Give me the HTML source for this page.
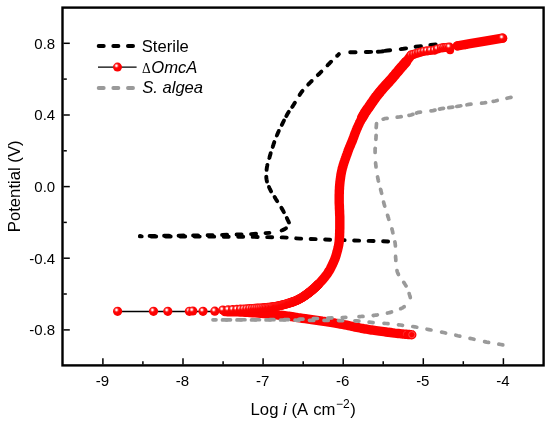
<!DOCTYPE html>
<html lang="en"><head><meta charset="utf-8"><title>Polarization curves</title>
<style>html,body{margin:0;padding:0;background:#fff}svg{display:block}</style></head>
<body>
<svg width="550" height="425" viewBox="0 0 550 425">
<defs><radialGradient id="ball" cx="0.38" cy="0.35" r="0.62"><stop offset="0" stop-color="#fff"/><stop offset="0.1" stop-color="#fff4f4"/><stop offset="0.34" stop-color="#ff2c2c"/><stop offset="0.5" stop-color="#fd0303"/><stop offset="1" stop-color="#fb0000"/></radialGradient></defs>
<rect width="550" height="425" fill="#fff"/>
<g fill="none" stroke-linejoin="round">
<polyline points="140.0,236.4 200.0,236.6 250.0,236.8 283.0,237.4 300.0,238.6 335.5,239.9 360.0,240.6 389.3,241.5" stroke="#000" stroke-width="3.9" stroke-linecap="round" stroke-dasharray="5.0 9.5" stroke-dashoffset="3.30"/>
<polyline points="140.0,236.0 200.0,235.4 250.0,234.2 269.4,232.9" stroke="#000" stroke-width="3.9" stroke-linecap="round" stroke-dasharray="5.0 9.5" stroke-dashoffset="4.90"/>
<path d="M281.6 230.5 L281.9 230.3 L282.4 230.2 L282.8 230.0 L283.2 229.8 L283.5 229.7 L283.9 229.5 L284.3 229.3 L284.6 229.1 L284.9 228.9 L285.3 228.7 L285.6 228.5 L285.9 228.3 L286.0 228.2 M289.0 222.5 L289.0 222.4 L288.9 222.3 L288.8 222.1 L288.7 221.9 L288.6 221.6 L288.4 221.4 L288.3 221.1 L288.1 220.7 L287.9 220.3 L287.7 219.8 L287.4 219.4 L287.2 218.8 L286.9 218.2 L286.8 218.0 M283.9 212.2 L283.8 212.1 L283.5 211.4 L283.1 210.7 L282.7 210.0 L282.3 209.3 L281.9 208.7 L281.5 208.0 L281.4 207.8 M277.2 201.2 L277.1 201.1 L276.7 200.4 L276.3 199.8 L275.9 199.1 L275.5 198.5 L275.1 197.8 L274.7 197.2 L274.6 197.0 M271.1 191.4 L270.9 191.1 L270.6 190.4 L270.3 189.8 L270.0 189.2 L269.7 188.6 L269.4 188.0 L269.1 187.3 L269.0 186.9 M267.0 181.5 L266.9 181.1 L266.7 180.4 L266.6 179.8 L266.5 179.1 L266.4 178.4 L266.3 177.7 L266.3 177.0 L266.3 176.6 M266.6 169.9 L266.6 169.6 L266.7 168.9 L266.8 168.1 L266.9 167.4 L267.0 166.7 L267.2 165.9 L267.3 165.2 L267.4 164.9 M269.3 158.0 L269.4 157.8 L269.6 157.0 L269.8 156.3 L270.0 155.6 L270.2 154.9 L270.4 154.2 L270.6 153.5 L270.7 153.2 M272.7 146.9 L272.8 146.6 L273.0 145.9 L273.3 145.2 L273.5 144.5 L273.7 143.8 L274.0 143.1 L274.2 142.4 L274.3 142.1 M276.8 135.5 L276.9 135.3 L277.2 134.6 L277.5 133.9 L277.8 133.2 L278.1 132.5 L278.4 131.8 L278.7 131.2 L278.8 130.9 M281.8 124.9 L282.0 124.6 L282.3 123.9 L282.6 123.3 L282.9 122.7 L283.2 122.1 L283.5 121.5 L283.8 120.9 L284.0 120.5 M286.3 116.1 L286.6 115.5 L286.9 115.0 L287.2 114.5 L287.5 113.9 L287.8 113.3 L288.2 112.8 L288.5 112.3 L288.8 111.8 M292.2 106.9 L292.4 106.7 L292.8 106.1 L293.2 105.4 L293.6 104.8 L294.0 104.1 L294.5 103.4 L294.9 102.7 L294.9 102.7 M299.6 95.0 L300.0 94.3 L300.5 93.6 L301.0 92.9 L301.5 92.2 L302.0 91.5 L302.5 90.9 M308.2 84.6 L308.7 84.0 L309.3 83.4 L309.9 82.8 L310.5 82.2 L311.1 81.6 L311.7 81.0 M317.8 75.1 L318.4 74.6 L319.0 74.0 L319.6 73.4 L320.2 72.8 L320.8 72.2 L321.4 71.6 M327.5 65.3 L328.1 64.7 L328.7 64.1 L329.3 63.5 L329.9 62.9 L330.6 62.2 L331.1 61.7 M337.1 55.8 L337.2 55.8 L337.7 55.3 L338.2 54.8 L338.6 54.4 L338.9 54.1" stroke="#000" stroke-width="3.9" stroke-linecap="round" fill="none"/>
<path d="M350.2 52.3 L352.9 52.2 L355.6 52.2 M365.8 52.0 L368.5 52.0 L371.2 51.9 M377.8 51.7 L380.5 51.6 L383.2 51.2 M384.8 50.9 L387.5 50.5 L390.2 50.2 M400.7 49.1 L403.4 48.8 L406.1 48.4 M415.6 46.8 L418.3 46.4 L421.0 46.1 M430.3 45.0 L433.0 44.7 L435.7 44.5" stroke="#000" stroke-width="3.9" stroke-linecap="round" fill="none"/>
<polyline points="117.3,311.5 215,311.5" stroke="#000" stroke-width="1.5"/>
<polyline points="225.0,311.6 226.2,311.6 227.6,311.7 229.3,311.7 231.2,311.8 233.3,311.8 235.5,311.9 237.8,311.9 240.2,312.0 242.6,312.1 245.1,312.2 247.6,312.3 250.0,312.5 252.5,312.7 255.2,312.9 258.0,313.1 260.9,313.4 263.9,313.6 266.8,313.9 269.8,314.2 272.7,314.5 275.4,314.7 278.1,315.0 280.5,315.3 282.7,315.5 284.6,315.7 286.2,315.9 287.6,316.1 288.8,316.2 290.0,316.4 291.0,316.5 292.1,316.7 293.3,316.9 294.6,317.1 296.1,317.3 297.9,317.6 300.0,317.9 302.5,318.3 305.3,318.7 308.4,319.1 311.7,319.6 315.2,320.1 318.7,320.6 322.3,321.2 325.8,321.7 329.1,322.2 332.4,322.7 335.3,323.2 338.0,323.6 340.4,324.0 342.7,324.4 344.8,324.8 346.7,325.2 348.6,325.6 350.4,326.0 352.1,326.4 353.7,326.7 355.3,327.1 356.9,327.4 358.4,327.7 360.0,328.0 361.5,328.3 362.9,328.5 364.2,328.8 365.5,329.0 366.7,329.2 367.9,329.4 369.1,329.6 370.3,329.8 371.6,330.0 372.9,330.2 374.4,330.4 376.0,330.6 377.8,330.8 379.7,331.1 381.7,331.4 383.9,331.7 386.1,332.0 388.3,332.3 390.5,332.5 392.6,332.8 394.7,333.1 396.6,333.3 398.4,333.5 400.0,333.7 401.4,333.9 402.8,334.0 404.1,334.1 405.3,334.2 406.4,334.3 407.4,334.4 408.3,334.5 409.2,334.5 410.0,334.6 410.7,334.6 411.3,334.7 411.8,334.7" stroke="#fe0000" stroke-width="9.4" stroke-linecap="round"/>
</g>
<g fill="url(#ball)">
<circle cx="117.6" cy="311.3" r="4.6"/>
<circle cx="153.5" cy="311.3" r="4.6"/>
<circle cx="167.8" cy="311.3" r="4.6"/>
<circle cx="189.4" cy="311.3" r="4.6"/>
<circle cx="192.8" cy="311.0" r="4.6"/>
<circle cx="203.0" cy="311.3" r="4.6"/>
<circle cx="214.8" cy="311.2" r="4.6"/>
<circle cx="222.8" cy="310.1" r="4.6"/>
<circle cx="228.1" cy="309.8" r="4.6"/>
<circle cx="232.7" cy="309.6" r="4.6"/>
<circle cx="236.8" cy="309.4" r="4.6"/>
<circle cx="240.5" cy="309.2" r="4.6"/>
<circle cx="243.8" cy="309.0" r="4.6"/>
<circle cx="246.8" cy="308.8" r="4.6"/>
<circle cx="249.6" cy="308.6" r="4.6"/>
<circle cx="252.2" cy="308.5" r="4.6"/>
<circle cx="254.6" cy="308.3" r="4.6"/>
<circle cx="256.8" cy="308.2" r="4.6"/>
<circle cx="258.9" cy="308.1" r="4.6"/>
<circle cx="260.9" cy="308.0" r="4.6"/>
<circle cx="262.8" cy="307.9" r="4.6"/>
<circle cx="264.6" cy="307.7" r="4.6"/>
<circle cx="266.3" cy="307.6" r="4.6"/>
<circle cx="267.9" cy="307.4" r="4.6"/>
<circle cx="269.4" cy="307.3" r="4.6"/>
<circle cx="270.9" cy="307.1" r="4.6"/>
<circle cx="272.3" cy="306.9" r="4.6"/>
<circle cx="273.7" cy="306.7" r="4.6"/>
<circle cx="275.0" cy="306.5" r="4.6"/>
<circle cx="276.3" cy="306.3" r="4.6"/>
<circle cx="277.5" cy="306.1" r="4.6"/>
<circle cx="278.7" cy="305.8" r="4.6"/>
<circle cx="279.8" cy="305.6" r="4.6"/>
<circle cx="280.9" cy="305.4" r="4.6"/>
<circle cx="282.0" cy="305.1" r="4.6"/>
<circle cx="283.0" cy="304.8" r="4.6"/>
<circle cx="284.0" cy="304.6" r="4.6"/>
<circle cx="285.0" cy="304.3" r="4.6"/>
<circle cx="286.0" cy="304.0" r="4.6"/>
<circle cx="286.9" cy="303.8" r="4.6"/>
<circle cx="287.8" cy="303.5" r="4.6"/>
<circle cx="288.7" cy="303.2" r="4.6"/>
<circle cx="289.5" cy="303.0" r="4.6"/>
<circle cx="290.4" cy="302.7" r="4.6"/>
<circle cx="291.2" cy="302.4" r="4.6"/>
<circle cx="292.0" cy="302.2" r="4.6"/>
<circle cx="292.8" cy="301.9" r="4.6"/>
<circle cx="293.5" cy="301.6" r="4.6"/>
<circle cx="294.3" cy="301.3" r="4.6"/>
<circle cx="295.0" cy="301.1" r="4.6"/>
<circle cx="295.7" cy="300.8" r="4.6"/>
<circle cx="296.4" cy="300.5" r="4.6"/>
<circle cx="297.1" cy="300.2" r="4.6"/>
<circle cx="297.8" cy="299.8" r="4.6"/>
<circle cx="298.4" cy="299.5" r="4.6"/>
<circle cx="299.1" cy="299.2" r="4.6"/>
<circle cx="299.7" cy="298.8" r="4.6"/>
<circle cx="300.4" cy="298.5" r="4.6"/>
<circle cx="301.0" cy="298.1" r="4.6"/>
<circle cx="301.6" cy="297.8" r="4.6"/>
<circle cx="302.2" cy="297.4" r="4.6"/>
<circle cx="302.8" cy="297.1" r="4.6"/>
<circle cx="303.3" cy="296.7" r="4.6"/>
<circle cx="303.9" cy="296.3" r="4.6"/>
<circle cx="304.4" cy="295.9" r="4.6"/>
<circle cx="305.0" cy="295.6" r="4.6"/>
<circle cx="305.5" cy="295.2" r="4.6"/>
<circle cx="306.1" cy="294.8" r="4.6"/>
<circle cx="306.6" cy="294.4" r="4.6"/>
<circle cx="307.1" cy="294.1" r="4.6"/>
<circle cx="307.6" cy="293.7" r="4.6"/>
<circle cx="308.1" cy="293.3" r="4.6"/>
<circle cx="308.6" cy="292.9" r="4.6"/>
<circle cx="309.1" cy="292.5" r="4.6"/>
<circle cx="309.6" cy="292.2" r="4.6"/>
<circle cx="310.0" cy="291.8" r="4.6"/>
<circle cx="310.5" cy="291.4" r="4.6"/>
<circle cx="311.0" cy="291.0" r="4.6"/>
<circle cx="311.4" cy="290.7" r="4.6"/>
<circle cx="311.9" cy="290.3" r="4.6"/>
<circle cx="312.3" cy="289.9" r="4.6"/>
<circle cx="312.7" cy="289.5" r="4.6"/>
<circle cx="313.2" cy="289.2" r="4.6"/>
<circle cx="313.6" cy="288.8" r="4.6"/>
<circle cx="314.0" cy="288.4" r="4.6"/>
<circle cx="314.4" cy="288.1" r="4.6"/>
<circle cx="314.9" cy="287.7" r="4.6"/>
<circle cx="315.3" cy="287.3" r="4.6"/>
<circle cx="315.7" cy="286.9" r="4.6"/>
<circle cx="316.1" cy="286.6" r="4.6"/>
<circle cx="316.5" cy="286.2" r="4.6"/>
<circle cx="316.8" cy="285.8" r="4.6"/>
<circle cx="317.2" cy="285.4" r="4.6"/>
<circle cx="317.6" cy="285.1" r="4.6"/>
<circle cx="318.0" cy="284.7" r="4.6"/>
<circle cx="318.4" cy="284.3" r="4.6"/>
</g>
<g fill="none" stroke="#fe0000" stroke-width="9.4" stroke-linecap="round" stroke-linejoin="round">
<polyline points="318.4,284.3 318.8,283.8 319.9,282.7 320.9,281.6 321.9,280.5 322.9,279.4 323.8,278.3 324.7,277.2 325.6,276.1 326.4,275.0 327.2,273.9 327.9,272.9 328.5,271.8 329.2,270.8 329.8,269.8 330.4,268.7 330.9,267.7 331.4,266.7 331.9,265.7 332.4,264.7 332.8,263.7 333.3,262.7 333.7,261.7 334.1,260.8 334.5,259.9 334.9,259.0 335.2,258.1 335.5,257.2 335.8,256.3 336.1,255.4 336.3,254.6 336.6,253.7 336.8,252.7 337.1,251.8 337.3,250.9 337.6,250.0 337.8,249.1 338.0,248.2 338.2,247.4 338.4,246.5 338.6,245.5 338.8,244.6 338.9,243.5 339.1,242.5 339.2,241.3 339.3,240.0 339.4,238.6 339.5,237.1 339.6,235.6 339.6,233.9 339.7,232.2 339.7,230.5 339.8,228.7 339.8,227.0 339.8,225.2 339.8,223.4 339.8,221.7 339.8,220.0 339.8,218.3 339.8,216.6 339.7,214.9 339.6,213.1 339.6,211.4 339.5,209.7 339.4,208.0 339.4,206.3 339.3,204.6 339.2,203.0 339.2,201.5 339.2,200.0 339.2,198.6 339.2,197.2 339.2,195.9 339.2,194.6 339.3,193.3 339.3,192.1 339.3,190.9 339.4,189.7 339.5,188.5 339.5,187.3 339.6,186.2 339.7,185.0 339.8,183.8 339.9,182.7 340.0,181.5 340.2,180.4 340.3,179.3 340.5,178.2 340.6,177.1 340.8,176.1 340.9,175.0 341.1,174.0 341.3,173.0 341.5,172.0 341.7,171.1 341.9,170.2 342.1,169.3 342.3,168.5 342.5,167.6 342.8,166.8 343.0,166.0 343.2,165.2 343.5,164.4 343.7,163.6 344.0,162.7 344.3,161.8 344.6,160.9 344.9,159.9 345.3,158.9 345.6,157.9 346.0,156.9 346.3,155.9 346.7,154.9 347.1,153.9 347.4,152.9 347.8,151.9 348.1,150.9 348.5,150.0 348.8,149.1 349.2,148.2 349.5,147.4 349.9,146.5 350.3,145.7 350.6,144.8 350.9,144.0 351.3,143.2 351.6,142.4 352.0,141.6 352.3,140.8 352.6,140.0 352.9,139.2 353.2,138.4 353.5,137.7 353.8,136.9 354.0,136.2 354.3,135.4 354.6,134.7 354.8,134.0 355.1,133.2 355.4,132.5 355.7,131.7 356.0,131.0 356.3,130.2 356.6,129.5 356.9,128.7 357.3,128.0 357.6,127.2 357.9,126.5 358.3,125.7 358.6,125.0 359.0,124.2 359.3,123.5 359.6,122.7 360.0,122.0 360.4,121.3 360.7,120.6 361.1,119.8 361.4,119.1 361.8,118.4 362.1,117.7 362.5,117.0 362.9,116.3 363.3,115.6 363.7,114.9 364.1,114.2 364.5,113.5 364.9,112.8 365.4,112.1 365.8,111.4 366.3,110.7 366.8,110.0 367.3,109.3 367.8,108.6 368.3,107.9 368.8,107.2 369.3,106.4 369.8,105.7 370.3,105.0 370.8,104.3 371.3,103.5 371.8,102.8 372.4,102.0 372.9,101.3 373.4,100.5 374.0,99.7 374.5,99.0 375.0,98.2 375.6,97.5 376.1,96.7 376.7,96.0 377.3,95.3 377.8,94.5 378.4,93.8 379.0,93.1 379.6,92.4 380.1,91.7 380.7,91.0 381.3,90.3 381.9,89.6 382.5,88.9 383.1,88.2 383.7,87.5 384.3,86.8 384.9,86.2 385.5,85.5 386.1,84.9 386.7,84.2 387.3,83.6 387.9,82.9 388.5,82.3 389.1,81.6 389.7,80.9 390.4,80.2 391.0,79.5 391.6,78.8 392.3,78.0 393.0,77.2 393.6,76.4 394.3,75.6 395.0,74.8 395.6,74.0 396.3,73.2 397.0,72.4 397.7,71.6 398.3,70.8 399.0,70.0 399.7,69.2 400.4,68.4 401.1,67.5 401.9,66.6 402.7,65.8 403.4,64.9 404.1,64.1 404.8,63.3 405.4,62.6 406.0,62.0 406.4,61.4 406.8,61.0 411.2,55.2"/>
<polyline points="362.1,117.7 362.5,117.0 362.9,116.3 363.3,115.6 363.7,114.9 364.1,114.2 364.5,113.5 364.9,112.8 365.4,112.1 365.8,111.4 366.3,110.7 366.8,110.0 367.3,109.3 367.8,108.6 368.3,107.9 368.8,107.2 369.3,106.4 369.8,105.7 370.3,105.0 370.8,104.3 371.3,103.5 371.8,102.8 372.4,102.0 372.9,101.3 373.4,100.5 374.0,99.7 374.5,99.0 375.0,98.2 375.6,97.5 376.1,96.7 376.7,96.0 377.3,95.3 377.8,94.5 378.4,93.8 379.0,93.1 379.6,92.4 380.1,91.7 380.7,91.0 381.3,90.3 381.9,89.6 382.5,88.9 383.1,88.2 383.7,87.5 384.3,86.8 384.9,86.2 385.5,85.5 386.1,84.9 386.7,84.2 387.3,83.6 387.9,82.9 388.5,82.3 389.1,81.6 389.7,80.9 390.4,80.2 391.0,79.5 391.6,78.8 392.3,78.0 393.0,77.2 393.6,76.4 394.3,75.6 395.0,74.8 395.6,74.0 396.3,73.2 397.0,72.4 397.7,71.6 398.3,70.8 399.0,70.0 399.7,69.2 400.4,68.4 401.1,67.5 401.9,66.6 402.7,65.8 403.4,64.9 404.1,64.1 404.8,63.3 405.4,62.6 406.0,62.0" stroke-width="10.3"/>
</g>
<g fill="url(#ball)">
<circle cx="450.1" cy="50.2" r="4.0" fill="#fe0000"/>
<circle cx="411.2" cy="55.2" r="4.6"/>
<circle cx="413.5" cy="54.4" r="4.6"/>
<circle cx="416.0" cy="53.6" r="4.6"/>
<circle cx="418.5" cy="52.8" r="4.6"/>
<circle cx="421.0" cy="52.1" r="4.6"/>
<circle cx="423.9" cy="51.3" r="4.6"/>
<circle cx="427.0" cy="50.9" r="4.6"/>
<circle cx="430.5" cy="50.5" r="4.6"/>
<circle cx="434.3" cy="50.2" r="4.6"/>
<circle cx="437.5" cy="49.0" r="4.6"/>
<circle cx="441.3" cy="48.0" r="4.6"/>
<circle cx="443.5" cy="47.7" r="4.6"/>
<circle cx="445.7" cy="47.5" r="4.6"/>
<circle cx="447.5" cy="47.3" r="4.6"/>
<circle cx="449.5" cy="47.2" r="4.6"/>
<circle cx="457.5" cy="45.8" r="4.6"/>
</g>
<polyline points="457.5,45.8 470.0,43.7 485.0,41.1 502.6,38.2" fill="none" stroke="#fe0000" stroke-width="9.4" stroke-linecap="round"/>
<circle cx="465.5" cy="45.6" r="3.6" fill="#fe0000"/>
<g fill="url(#ball)">
<circle cx="502.6" cy="38.2" r="4.6"/>
</g>
<circle cx="411.8" cy="334.7" r="3.1" fill="none" stroke="#ff5a5a" stroke-width="0.7"/>
<circle cx="406.4" cy="334.2" r="3.1" fill="none" stroke="#ff4040" stroke-width="0.6" stroke-dasharray="6 14" stroke-dashoffset="-8"/>
<g fill="none" stroke-linejoin="round">
<polyline points="213.0,319.9 285.0,320.0 300.0,320.3 345.0,320.6" stroke="#9a9a9a" stroke-width="3.7" stroke-linecap="round" stroke-dasharray="4.2 10.3" stroke-dashoffset="5.00"/>
<path d="M354.9 320.8 L356.9 320.9 L358.9 321.1 M369.1 322.2 L371.1 322.4 L373.1 322.6 M384.0 323.3 L386.0 323.5 L388.0 323.7 M398.5 324.8 L400.5 325.0 L402.5 325.3 M412.8 326.5 L414.8 326.8 L416.8 327.2 M427.0 329.2 L429.0 329.6 L431.0 330.0 M441.6 332.1 L443.6 332.5 L445.6 333.0 M455.8 335.2 L457.8 335.7 L459.8 336.1 M470.0 338.4 L472.0 338.8 L474.0 339.3 M484.6 341.6 L486.6 342.1 L488.6 342.4 M498.8 344.2 L500.8 344.5 L502.8 344.9" stroke="#9a9a9a" stroke-width="3.7" stroke-linecap="round" fill="none"/>
<polyline points="213.0,319.8 285.0,319.7 300.0,319.2 345.8,317.4" stroke="#9a9a9a" stroke-width="3.7" stroke-linecap="round" stroke-dasharray="4.2 10.3" stroke-dashoffset="1.20"/>
<path d="M359.0 316.6 L359.0 316.6 L360.0 316.6 L361.0 316.5 L361.9 316.4 L362.8 316.4 L363.0 316.4 M373.3 315.5 L373.5 315.4 L374.4 315.3 L375.3 315.2 L376.2 315.1 L377.1 315.0 L377.3 314.9 M387.5 313.1 L387.8 313.0 L388.6 312.8 L389.5 312.6 L390.4 312.4 L391.2 312.1 L391.5 312.0 M400.7 308.7 L401.2 308.5 L401.9 308.1 L402.5 307.8 L403.1 307.5 L403.6 307.1 L404.1 306.7 L404.2 306.7 M410.3 297.6 L410.3 297.5 L410.3 297.4 L410.3 297.2 L410.2 297.1 L410.2 296.9 L410.1 296.7 L410.1 296.5 L410.0 296.3 L409.9 296.1 L409.9 295.9 L409.8 295.6 L409.7 295.3 L409.6 295.0 L409.5 294.6 L409.4 294.3 L409.3 293.9 L409.2 293.6 M406.0 285.9 L405.7 285.5 L405.5 285.1 L405.2 284.6 L404.9 284.1 L404.6 283.6 L404.2 283.0 L403.8 282.4 M398.4 274.5 L398.3 274.2 L397.9 273.4 L397.6 272.6 L397.3 271.8 L397.1 271.0 L397.0 270.6 M395.8 260.4 L395.8 260.2 L395.8 259.3 L395.7 258.4 L395.6 257.5 L395.6 256.6 L395.6 256.4 M395.4 246.0 L395.4 245.7 L395.3 244.9 L395.2 244.0 L395.1 243.1 L395.0 242.3 L394.9 242.0 M392.9 232.8 L392.8 232.5 L392.6 231.6 L392.4 230.8 L392.2 230.0 L391.9 229.1 L391.9 228.8 M388.8 219.3 L388.7 219.0 L388.5 218.1 L388.2 217.3 L387.9 216.5 L387.7 215.6 L387.6 215.3 M384.7 206.1 L384.6 205.7 L384.3 204.9 L384.1 204.1 L383.9 203.3 L383.7 202.5 L383.6 202.1 M381.6 193.3 L381.5 192.9 L381.3 192.1 L381.1 191.3 L380.9 190.5 L380.7 189.8 L380.6 189.3 M378.4 181.0 L378.3 180.6 L378.2 179.8 L378.0 179.0 L377.8 178.2 L377.7 177.3 L377.6 177.0 M376.0 166.9 L376.0 166.7 L375.9 165.8 L375.8 164.9 L375.7 164.0 L375.6 163.1 L375.6 162.9 M375.1 152.4 L375.1 152.1 L375.1 151.3 L375.1 150.4 L375.1 149.5 L375.1 148.7 L375.2 148.4 M375.9 139.3 L375.9 138.7 L376.0 138.0 L376.0 137.3 L376.0 136.6 L376.1 135.9 L376.1 135.3" stroke="#9a9a9a" stroke-width="3.7" stroke-linecap="round" fill="none"/>
<path d="M376.2 127.7 L376.5 123.7 M383.2 119.2 L385.1 118.5 L387.1 118.3 M397.2 117.2 L399.2 117.0 L401.2 116.7 M409.0 115.3 L411.0 115.0 L412.9 114.3 M416.6 113.0 L418.5 112.3 L420.5 112.1 M431.0 110.8 L433.0 110.6 L435.0 110.1 M439.5 109.1 L441.5 108.6 L443.5 108.3 M448.8 107.7 L450.8 107.4 L452.8 107.1 M456.8 106.5 L458.8 106.2 L460.8 105.8 M467.0 104.8 L469.0 104.4 L471.0 104.2 M481.6 103.2 L483.6 103.0 L485.6 102.7 M493.2 101.3 L495.2 101.0 L497.2 100.5 M507.0 98.3 L509.0 97.8 L511.0 97.4" stroke="#9a9a9a" stroke-width="3.7" stroke-linecap="round" fill="none"/>
</g>
<rect x="62.5" y="7.6" width="481.1" height="357.8" fill="none" stroke="#000" stroke-width="2.4"/>
<g stroke="#000" stroke-width="1.5">
<line x1="102.9" y1="364.4" x2="102.9" y2="358.2"/>
<line x1="142.9" y1="364.4" x2="142.9" y2="361.2"/>
<line x1="183.0" y1="364.4" x2="183.0" y2="358.2"/>
<line x1="223.1" y1="364.4" x2="223.1" y2="361.2"/>
<line x1="263.1" y1="364.4" x2="263.1" y2="358.2"/>
<line x1="303.2" y1="364.4" x2="303.2" y2="361.2"/>
<line x1="343.2" y1="364.4" x2="343.2" y2="358.2"/>
<line x1="383.2" y1="364.4" x2="383.2" y2="361.2"/>
<line x1="423.3" y1="364.4" x2="423.3" y2="358.2"/>
<line x1="463.3" y1="364.4" x2="463.3" y2="361.2"/>
<line x1="503.4" y1="364.4" x2="503.4" y2="358.2"/>
<line x1="63.5" y1="43.3" x2="69.8" y2="43.3"/>
<line x1="63.5" y1="79.1" x2="66.8" y2="79.1"/>
<line x1="63.5" y1="115.0" x2="69.8" y2="115.0"/>
<line x1="63.5" y1="150.8" x2="66.8" y2="150.8"/>
<line x1="63.5" y1="186.6" x2="69.8" y2="186.6"/>
<line x1="63.5" y1="222.4" x2="66.8" y2="222.4"/>
<line x1="63.5" y1="258.2" x2="69.8" y2="258.2"/>
<line x1="63.5" y1="294.0" x2="66.8" y2="294.0"/>
<line x1="63.5" y1="329.9" x2="69.8" y2="329.9"/>
</g>
<g font-family="'Liberation Sans', Arial, sans-serif" fill="#000">
<text x="102.4" y="386" font-size="15" text-anchor="middle">-9</text>
<text x="182.5" y="386" font-size="15" text-anchor="middle">-8</text>
<text x="262.6" y="386" font-size="15" text-anchor="middle">-7</text>
<text x="342.7" y="386" font-size="15" text-anchor="middle">-6</text>
<text x="422.8" y="386" font-size="15" text-anchor="middle">-5</text>
<text x="502.9" y="386" font-size="15" text-anchor="middle">-4</text>
<text x="55.2" y="48.6" font-size="15" text-anchor="end">0.8</text>
<text x="55.2" y="120.3" font-size="15" text-anchor="end">0.4</text>
<text x="55.2" y="191.9" font-size="15" text-anchor="end">0.0</text>
<text x="55.2" y="263.5" font-size="15" text-anchor="end">-0.4</text>
<text x="55.2" y="335.2" font-size="15" text-anchor="end">-0.8</text>
<text transform="translate(19.8,186.3) rotate(-90)" font-size="16.7" text-anchor="middle">Potential (V)</text>
<text x="250.6" y="415.3" font-size="16.7">Log <tspan font-style="italic">i</tspan> (A <tspan dx="1.3">cm</tspan><tspan font-size="12" dy="-7" dx="0.5">−2</tspan><tspan dy="7" dx="0.6">)</tspan></text>
<line x1="98.65" y1="46" x2="133.2" y2="46" stroke="#000" stroke-width="3.9" stroke-linecap="round" stroke-dasharray="5.1 9.55"/>
<line x1="98.65" y1="88" x2="133.2" y2="88" stroke="#9a9a9a" stroke-width="3.8" stroke-linecap="round" stroke-dasharray="5.1 9.55"/>
<line x1="98" y1="67.1" x2="136.6" y2="67.1" stroke="#000" stroke-width="1.4"/>
<circle cx="117.5" cy="67.1" r="4.5" fill="url(#ball)"/>
<text x="141.8" y="51.9" font-size="16.6">Sterile</text>
<text x="141.9" y="73.1" font-size="14.3" font-family="'Liberation Serif', serif" textLength="8.7" lengthAdjust="spacingAndGlyphs">Δ</text>
<text x="151.3" y="73.1" font-size="16.6" font-style="italic">OmcA</text>
<text x="142.2" y="93.4" font-size="16.6" font-style="italic">S. algea</text>
</g>
</svg>
</body></html>
